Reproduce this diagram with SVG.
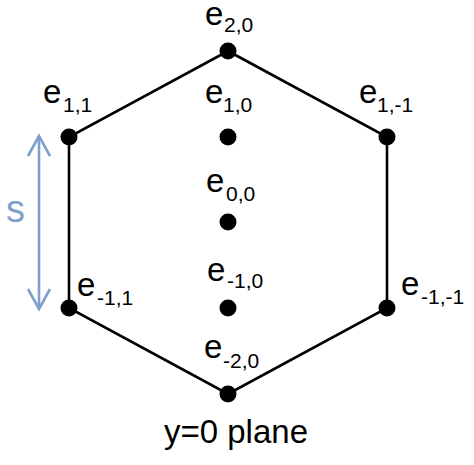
<svg xmlns="http://www.w3.org/2000/svg" width="474" height="465" viewBox="0 0 474 465">
<defs>
<style>
.lbl{font-family:"Liberation Sans",Arial,sans-serif;font-size:33px;fill:#000}
.sub{font-size:21px}
.dot{fill:#000}
.edge{stroke:#000;stroke-width:2.6;fill:none}
.dim{stroke:#7F9FCC;stroke-width:2.6;fill:none}
</style>
</defs>
<rect width="474" height="465" fill="#fff"/>
<g id="connectors">
<polygon class="edge" points="228,51 387,137 387,308 228,394 69,308 69,137"/>
</g>
<g id="dimension">
<line class="dim" x1="39" y1="136" x2="39" y2="309"/>
<polyline class="dim" points="28,156 39,136 50,156"/>
<polyline class="dim" points="28,289 39,309 50,289"/>
<text x="6" y="222" style="font-family:'Liberation Sans',Arial,sans-serif;font-size:38px;fill:#7F9FCC">s</text>
</g>
<g id="n_2_0"><circle class="dot" cx="228" cy="51" r="8.5"/><text class="lbl" x="205" y="25">e<tspan class="sub" x="224" y="32">2,0</tspan></text></g>
<g id="n_1_1"><circle class="dot" cx="69" cy="137" r="8.5"/><text class="lbl" x="43" y="103">e<tspan class="sub" x="63" y="112">1,1</tspan></text></g>
<g id="n_1_0"><circle class="dot" cx="228" cy="137" r="8.5"/><text class="lbl" x="205" y="103">e<tspan class="sub" x="223" y="112">1,0</tspan></text></g>
<g id="n_1_m1"><circle class="dot" cx="387" cy="137" r="8.5"/><text class="lbl" x="359" y="103">e<tspan class="sub" x="377" y="112">1,-1</tspan></text></g>
<g id="n_0_0"><circle class="dot" cx="228" cy="222" r="8.5"/><text class="lbl" x="206" y="192">e<tspan class="sub" x="226" y="201">0,0</tspan></text></g>
<g id="n_m1_0"><circle class="dot" cx="228" cy="308" r="8.5"/><text class="lbl" x="207" y="281">e<tspan class="sub" x="227" y="288">-1,0</tspan></text></g>
<g id="n_m1_1"><circle class="dot" cx="69" cy="308" r="8.5"/><text class="lbl" x="77" y="296">e<tspan class="sub" x="97" y="305">-1,1</tspan></text></g>
<g id="n_m1_m1"><circle class="dot" cx="387" cy="308" r="8.5"/><text class="lbl" x="401" y="295">e<tspan class="sub" x="421" y="304">-1,-1</tspan></text></g>
<g id="n_m2_0"><circle class="dot" cx="228" cy="394" r="8.5"/><text class="lbl" x="204" y="358">e<tspan class="sub" x="223" y="368">-2,0</tspan></text></g>
<text x="236" y="443" text-anchor="middle" style="font-family:'Liberation Sans',Arial,sans-serif;font-size:33px;fill:#000">y=0 plane</text>
</svg>
